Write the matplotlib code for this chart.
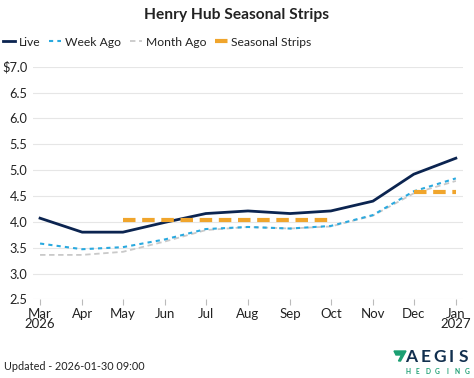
import matplotlib
matplotlib.use("Agg")
import matplotlib.pyplot as plt
import pandas as pd

plt.rcParams['font.family'] = ['Lato', 'DejaVu Sans']

months = pd.date_range("2026-03-01", "2027-01-01", freq="MS")
live = [4.07, 3.80, 3.80, 3.99, 4.16, 4.21, 4.16, 4.21, 4.40, 4.92, 5.23]
week_ago = [3.58, 3.47, 3.51, 3.66, 3.86, 3.90, 3.87, 3.92, 4.13, 4.59, 4.84]
month_ago = [3.36, 3.36, 3.42, 3.62, 3.84, 3.90, 3.87, 3.91, 4.12, 4.55, 4.79]
strip_summer = ["2026-05-01", "2026-10-01"]
strip_summer_val = 4.04
strip_winter = ["2026-12-01", "2027-01-01"]
strip_winter_val = 4.58

tick_labels = ["Mar\n2026", "Apr", "May", "Jun", "Jul", "Aug", "Sep", "Oct",
               "Nov", "Dec", "Jan\n2027"]
y_ticks = [2.5, 3.0, 3.5, 4.0, 4.5, 5.0, 5.5, 6.0, 6.5, 7.0]

navy = "#0b2450"
blue = "#2aa9df"
grey = "#c9c9c9"
orange = "#f0a52c"
text_col = "#222222"
logo_navy = "#12304f"
logo_green = "#1b9f72"

W, H = 474, 378
fig = plt.figure(figsize=(W / 100, H / 100), dpi=100)
ax = fig.add_axes([0.0696, 0.208, 0.907, 0.6156])

ax.plot(months, month_ago, color=grey, lw=1.3, ls=(0, (3, 2)), label="Month Ago")
ax.plot(months, week_ago, color=blue, lw=1.5, ls=(0, (2, 2)), label="Week Ago")
ax.plot(months, live, color=navy, lw=2.0, label="Live")
ax.plot(pd.to_datetime(strip_summer), [strip_summer_val] * 2, color=orange, lw=3,
        ls=(0, (3, 1.6)), label="Seasonal Strips")
ax.plot(pd.to_datetime(strip_winter), [strip_winter_val] * 2, color=orange, lw=3,
        ls=(0, (3, 1.6)))

pad = pd.Timedelta(days=5.2)
ax.set_xlim(months[0] - pad, months[-1] + pad)
ax.set_ylim(2.5, 7.0)
ax.set_xticks(months)
ax.set_xticklabels(tick_labels, linespacing=0.85)
ax.set_yticks(y_ticks)
ax.set_yticklabels(["$7.0" if v == 7.0 else f"{v:.1f}" for v in y_ticks])
ax.tick_params(axis='x', length=4, color="#bbbbbb", labelsize=9.5, labelcolor=text_col, pad=2)
ax.tick_params(axis='y', length=0, labelsize=9.2, labelcolor=text_col, pad=4)
for s in ax.spines.values():
    s.set_visible(False)
ax.grid(axis='y', color="#e6e6e6", lw=0.8)
ax.set_axisbelow(True)

handles, labels = ax.get_legend_handles_labels()
order = [2, 1, 0, 3]
fig.legend([handles[i] for i in order], [labels[i] for i in order],
           loc="center left", bbox_to_anchor=(3 / W, 1 - 42 / H), ncol=4, frameon=False,
           fontsize=8.7, handlelength=1.0, handletextpad=0.3, columnspacing=0.75,
           borderaxespad=0, borderpad=0, labelcolor=text_col)

fig.text(0.5, 1 - 15 / H, "Henry Hub Seasonal Strips", ha="center", va="center",
         fontsize=11.2, fontweight="bold", color=text_col)
fig.text(4 / W, 1 - 367 / H, "Updated - 2026-01-30 09:00", ha="left", va="center",
         fontsize=7.8, color=text_col)

# logo
for ch, xc in zip("AEGIS", [411.5, 425.5, 440, 451.5, 463.5]):
    fig.text(xc / W, 1 - 357 / H, ch, ha="center", va="center", fontsize=12.5,
             fontweight="bold", color=logo_navy)
for i, ch in enumerate("HEDGING"):
    fig.text((408 + i * 9.8) / W, 1 - 372 / H, ch, ha="center", va="center",
             fontsize=4.8, fontweight="bold", color=logo_green)
mark = [(394, 351), (406, 351), (400.5, 361), (398.5, 361), (401.5, 355), (396, 355)]
fig.patches.append(plt.Polygon([(x / W, 1 - y / H) for x, y in mark], closed=True,
                               transform=fig.transFigure, color=logo_green))

fig.savefig("out.png", dpi=100)
